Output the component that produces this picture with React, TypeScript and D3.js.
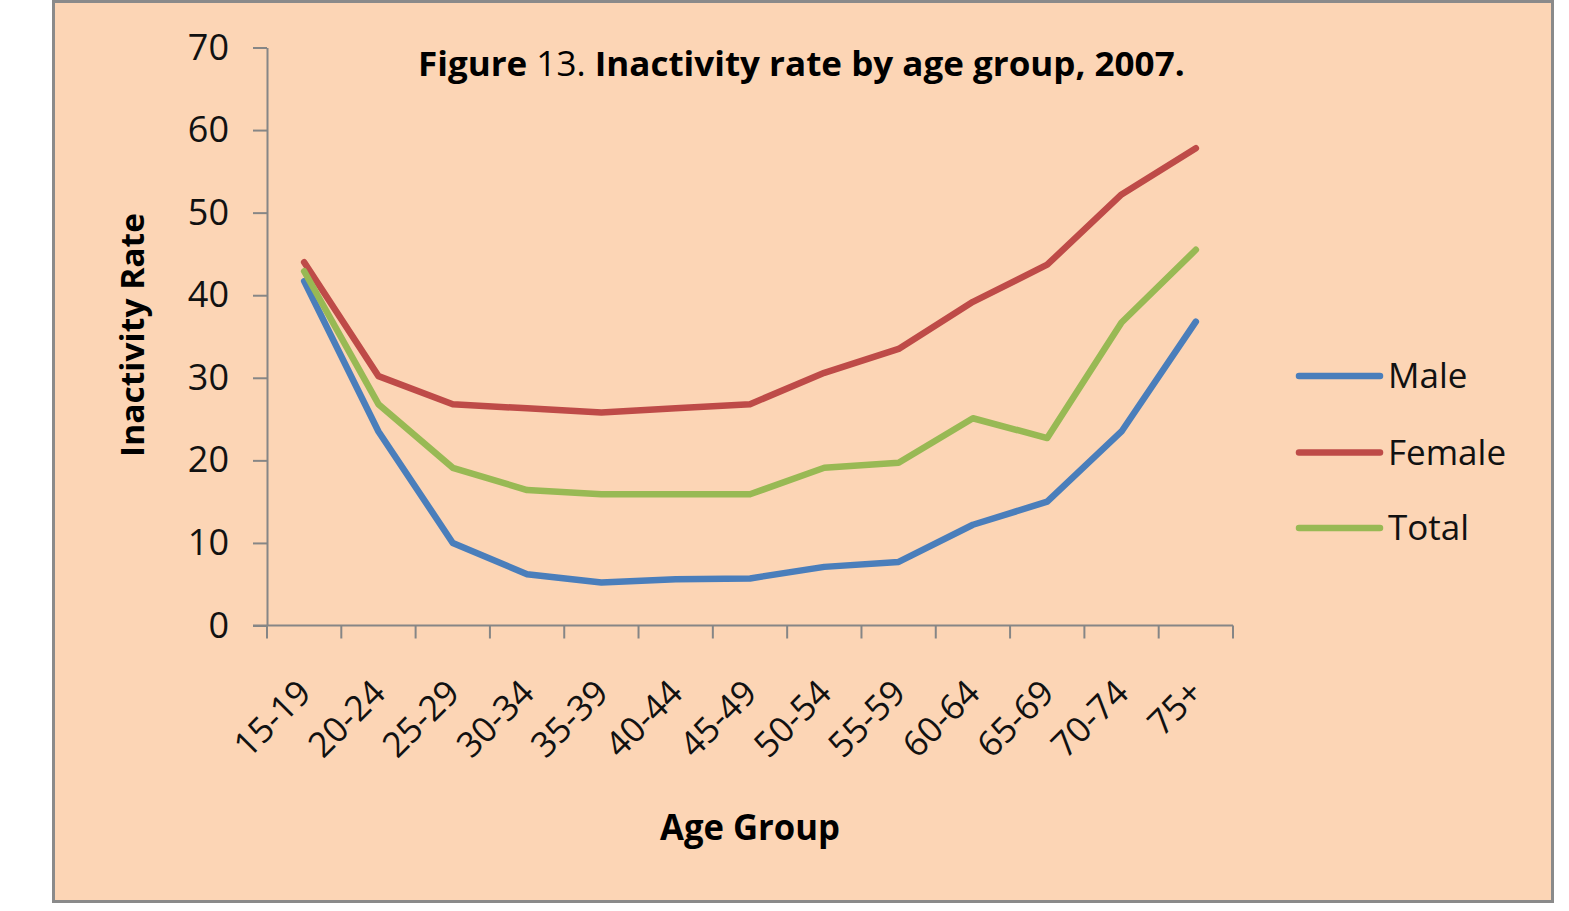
import * as d3 from 'd3';
import { useRef, useEffect } from 'react';

const ageGroups = ['15-19', '20-24', '25-29', '30-34', '35-39', '40-44', '45-49', '50-54', '55-59', '60-64', '65-69', '70-74', '75+'];
const maleRate = [41.7, 23.5, 10.0, 6.2, 5.2, 5.6, 5.7, 7.1, 7.7, 12.2, 15.0, 23.5, 36.8];
const femaleRate = [44.0, 30.2, 26.8, 26.3, 25.8, 26.3, 26.8, 30.6, 33.5, 39.2, 43.7, 52.2, 57.8];
const totalRate = [42.9, 26.8, 19.1, 16.4, 15.9, 15.9, 15.9, 19.1, 19.7, 25.1, 22.7, 36.7, 45.5];
const seriesNames = ['Male', 'Female', 'Total'];
const seriesColors = ['#4A7EBB', '#BE4B48', '#98B954'];
const yTicks = [0, 10, 20, 30, 40, 50, 60, 70];

const FONT = "'Open Sans', 'DejaVu Sans', sans-serif";

const App = () => {
    const svgRef = useRef<SVGSVGElement | null>(null);

    useEffect(() => {
        const svg = d3.select(svgRef.current);
        svg.selectAll('*').remove();

        // squeeze a text horizontally to a target width (Calibri is narrower than our fonts)
        const fit = (sel: d3.Selection<SVGTextElement, unknown, null, undefined>, target: number) => {
            const w = (sel.node() as SVGTextElement).getComputedTextLength();
            return w > 0 ? target / w : 1;
        };

        // background frame
        svg.append('rect')
            .attr('x', 53.5).attr('y', 1.5)
            .attr('width', 1499).attr('height', 900)
            .attr('fill', '#FCD5B5')
            .attr('stroke', '#8a8a8a')
            .attr('stroke-width', 3);

        const x = d3.scaleBand().domain(ageGroups).range([267, 1233]);
        const y = d3.scaleLinear().domain([0, 70]).range([625.5, 47.5]);

        // y axis
        const yAxis = svg.append('g')
            .attr('transform', 'translate(267,0)')
            .call(d3.axisLeft(y).tickValues(yTicks).tickSize(14).tickSizeOuter(0).tickPadding(24));
        yAxis.select('.domain').attr('stroke', '#868686').attr('stroke-width', 2);
        yAxis.selectAll('.tick line').attr('stroke', '#868686').attr('stroke-width', 2);
        yAxis.selectAll('.tick text')
            .attr('font-family', FONT)
            .attr('font-size', 36)
            .attr('fill', '#111');

        // x axis (ticks sit on category boundaries, like Excel)
        const bounds = ageGroups.map(g => x(g)!).concat([x(ageGroups[ageGroups.length - 1])! + x.bandwidth()]);
        const xAxis = svg.append('g');
        xAxis.append('line')
            .attr('x1', 253).attr('x2', 1233)
            .attr('y1', y(0)).attr('y2', y(0))
            .attr('stroke', '#868686').attr('stroke-width', 2);
        xAxis.selectAll('line.tick')
            .data(bounds)
            .enter()
            .append('line')
            .attr('class', 'tick')
            .attr('x1', d => d).attr('x2', d => d)
            .attr('y1', y(0)).attr('y2', y(0) + 13)
            .attr('stroke', '#868686').attr('stroke-width', 2);
        xAxis.selectAll('text')
            .data(ageGroups)
            .enter()
            .append('text')
            .attr('transform', d => `translate(${x(d)! + x.bandwidth() / 2 + 9},695) rotate(-45)`)
            .attr('text-anchor', 'end')
            .attr('font-family', FONT)
            .attr('font-size', 35)
            .attr('fill', '#111')
            .text(d => d);

        // lines
        const rows = [maleRate, femaleRate, totalRate];
        const line = d3.line<number>()
            .x((_, i) => x(ageGroups[i])! + x.bandwidth() / 2)
            .y(d => y(d));
        svg.selectAll('path.series')
            .data(rows)
            .enter()
            .append('path')
            .attr('class', 'series')
            .attr('d', d => line(d))
            .attr('fill', 'none')
            .attr('stroke', (_, i) => seriesColors[i])
            .attr('stroke-width', 6.5)
            .attr('stroke-linejoin', 'round')
            .attr('stroke-linecap', 'round');

        // title
        const title = svg.append('text')
            .attr('font-family', FONT)
            .attr('font-size', 34)
            .attr('font-weight', 'bold')
            .attr('fill', '#000');
        title.append('tspan').text('Figure ');
        title.append('tspan').attr('font-weight', 'normal').text('13.');
        title.append('tspan').text(' Inactivity rate by age group, 2007.');
        const ts = fit(title, 767);
        title.attr('transform', `translate(418,76) scale(${ts},1)`);

        // axis titles
        const yTitle = svg.append('text')
            .attr('font-family', FONT)
            .attr('font-size', 33)
            .attr('font-weight', 'bold')
            .attr('text-anchor', 'middle')
            .text('Inactivity Rate');
        const ys = fit(yTitle, 244);
        yTitle.attr('transform', `translate(144,335) rotate(-90) scale(${ys},1)`);

        const xTitle = svg.append('text')
            .attr('font-family', FONT)
            .attr('font-size', 35)
            .attr('font-weight', 'bold')
            .attr('text-anchor', 'middle')
            .text('Age Group');
        const xs = fit(xTitle, 180);
        xTitle.attr('transform', `translate(750,840) scale(${xs},1)`);

        // legend
        const legendY = [376, 452.5, 528];
        const legend = svg.selectAll('g.legend')
            .data(seriesNames)
            .enter()
            .append('g')
            .attr('class', 'legend')
            .attr('transform', (_, i) => `translate(0,${legendY[i]})`);
        legend.append('line')
            .attr('x1', 1299).attr('x2', 1380)
            .attr('y1', 0).attr('y2', 0)
            .attr('stroke', (_, i) => seriesColors[i])
            .attr('stroke-width', 6.5)
            .attr('stroke-linecap', 'round');
        legend.append('text')
            .attr('x', 1388)
            .attr('y', 12)
            .attr('font-family', FONT)
            .attr('font-size', 35)
            .attr('fill', '#111')
            .text(d => d);
    }, []);

    return (
        <svg ref={svgRef} width={1569} height={911}
            style={{ position: 'absolute', left: 0, top: 0, background: '#fff' }} />
    );
};

export default App;
